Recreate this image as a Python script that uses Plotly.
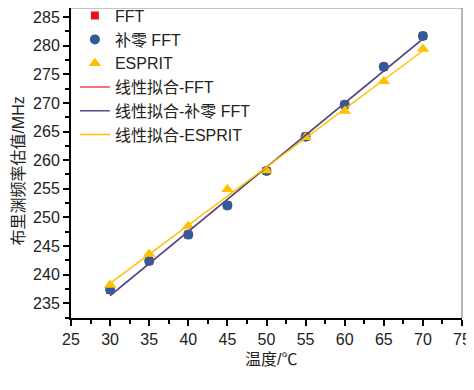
import numpy as np
import plotly.graph_objects as go

temps = [30, 35, 40, 45, 50, 55, 60, 65, 70]
fft_vals = [237.3, 242.4, 247.0, 252.1, 258.1, 264.1, 269.7, 276.3, 281.7]
zp_fft_vals = [237.4, 242.4, 247.0, 252.1, 258.1, 264.1, 269.7, 276.3, 281.7]
esprit_vals = [238.2, 243.6, 248.5, 254.9, 258.2, 264.0, 268.6, 273.8, 279.4]

names = ["FFT", "补零 FFT", "ESPRIT"]
fit_names = ["线性拟合-FFT", "线性拟合-补零 FFT", "线性拟合-ESPRIT"]
x_ticks = [25, 30, 35, 40, 45, 50, 55, 60, 65, 70, 75]
y_ticks = [235, 240, 245, 250, 255, 260, 265, 270, 275, 280, 285]

FONT = "Arial, Liberation Sans, Noto Sans CJK SC, sans-serif"
TXT = "#222222"

def fit(xs, ys):
    k, b = np.polyfit(xs, ys, 1)
    return [k * x + b for x in xs]

fig = go.Figure()
fig.add_trace(go.Scatter(x=temps, y=fft_vals, mode="markers", name=names[0],
                         marker=dict(symbol="square", size=8, color="#E8101A")))
fig.add_trace(go.Scatter(x=temps, y=zp_fft_vals, mode="markers", name=names[1],
                         marker=dict(symbol="circle", size=10, color="#2F5D98")))
fig.add_trace(go.Scatter(x=temps, y=esprit_vals, mode="markers", name=names[2],
                         marker=dict(symbol="triangle-up", size=11, color="#FFC000")))
fig.add_trace(go.Scatter(x=temps, y=fit(temps, fft_vals), mode="lines", name=fit_names[0],
                         line=dict(color="#E8474F", width=1.3)))
fig.add_trace(go.Scatter(x=temps, y=fit(temps, zp_fft_vals), mode="lines", name=fit_names[1],
                         line=dict(color="#4A4C8C", width=1.5)))
fig.add_trace(go.Scatter(x=temps, y=fit(temps, esprit_vals), mode="lines", name=fit_names[2],
                         line=dict(color="#FFC000", width=1.5)))

fig.update_layout(
    width=474, height=390,
    margin=dict(l=63, r=20, t=0, b=80, autoexpand=False),
    plot_bgcolor="white", paper_bgcolor="white",
    font=dict(family=FONT, size=16, color=TXT),
    showlegend=True,
    legend=dict(x=0.01, y=1.03, xanchor="left", yanchor="top",
                bgcolor="rgba(0,0,0,0)", font=dict(size=16, color=TXT),
                itemwidth=30, tracegroupgap=0),
)
axis_common = dict(showline=True, linecolor="black", linewidth=2, showgrid=False,
                   zeroline=False, ticks="outside", ticklen=6, tickwidth=2, tickcolor="black",
                   tickfont=dict(size=16, color=TXT), automargin=False)
fig.update_xaxes(range=[25, 75], tickmode="array", tickvals=x_ticks,
                 minor=dict(ticks="outside", ticklen=4, tickwidth=2, tickcolor="black", dtick=2.5),
                 **axis_common)
fig.update_yaxes(range=[232.43, 286.58], tickmode="array", tickvals=y_ticks,
                 minor=dict(ticks="outside", ticklen=4, tickwidth=2, tickcolor="black",
                            tick0=232.5, dtick=2.5),
                 **axis_common)

# gray top/right frame
fig.add_shape(type="line", xref="paper", yref="paper", x0=0, x1=1, y0=1, y1=1,
              line=dict(color="#888888", width=1.2))
fig.add_shape(type="line", xref="paper", yref="paper", x0=1, x1=1, y0=0, y1=1,
              line=dict(color="#888888", width=1.2))

fig.add_annotation(text="温度/℃", xref="paper", yref="paper", x=0.511, y=-0.135,
                   xanchor="center", yanchor="middle", showarrow=False,
                   font=dict(size=16, color=TXT))
fig.add_annotation(text="布里渊频率估值/MHz", xref="paper", yref="paper", x=-0.161, y=0.474,
                   xanchor="left", yanchor="middle", showarrow=False, textangle=-90,
                   font=dict(size=16, color=TXT))

fig.write_html("out.html")
